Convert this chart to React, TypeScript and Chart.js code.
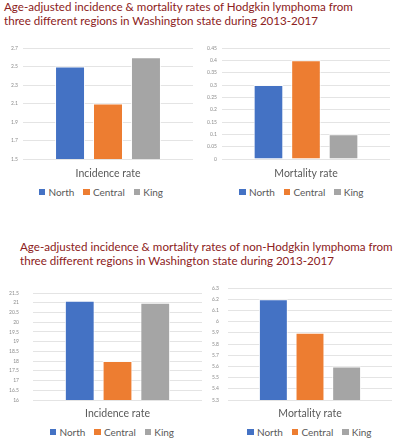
import React, { useEffect, useRef } from "react";
import { Chart, registerables } from "chart.js";
Chart.register(...registerables);

// ---- data ----
const regions = ["North", "Central", "King"];
const regionColors = ["#4472C4", "#ED7D31", "#A5A5A5"];

const incidenceCategory = ["Incidence rate"];
const mortalityCategory = ["Mortality rate"];

const hlTitle = [
  "Age-adjusted incidence & mortality rates of Hodgkin lymphoma from",
  "three different regions in Washington state during 2013-2017",
];
const nhlTitle = [
  "Age-adjusted incidence & mortality rates of non-Hodgkin lymphoma from",
  "three different regions in Washington state during 2013-2017",
];

const hlIncidence = [2.5, 2.1, 2.6];
const hlMortality = [0.3, 0.4, 0.1];
const nhlIncidence = [21.1, 18.0, 21.0];
const nhlMortality = [6.2, 5.9, 5.6];

const hlIncidenceTicks = [1.5, 1.7, 1.9, 2.1, 2.3, 2.5, 2.7];
const hlMortalityTicks = [0, 0.05, 0.1, 0.15, 0.2, 0.25, 0.3, 0.35, 0.4, 0.45];
const nhlIncidenceTicks = [16, 16.5, 17, 17.5, 18, 18.5, 19, 19.5, 20, 20.5, 21, 21.5];
const nhlMortalityTicks = [5.3, 5.4, 5.5, 5.6, 5.7, 5.8, 5.9, 6, 6.1, 6.2, 6.3];

type Geo = {
  left: number;
  top: number;
  width: number;
  areaLeft: number;
  areaRight: number;
  areaTop: number;
  areaBottom: number;
  tickPad: number;
  labelCenter: number;
  legendCenterX: number;
  legendCenterY: number;
};

const FONT = "Lato";
const X_AXIS_HEIGHT = 24;

function Legend(props: { cx: number; cy: number }) {
  return (
    <div
      style={{
        position: "absolute",
        left: props.cx - 100,
        top: props.cy - 7,
        width: 200,
        height: 14,
        display: "flex",
        justifyContent: "center",
        alignItems: "center",
        fontFamily: FONT,
        fontSize: 10,
        color: "#595959",
        whiteSpace: "nowrap",
      }}
    >
      {regions.map((r, i) => (
        <div key={r} style={{ display: "flex", alignItems: "center", marginLeft: i === 0 ? 0 : 9 }}>
          <span style={{ display: "inline-block", width: 6.5, height: 6.5, background: regionColors[i], marginRight: 3 }} />
          <span>{r}</span>
        </div>
      ))}
    </div>
  );
}

function BarPanel(props: { category: string[]; values: number[]; ticks: number[]; geo: Geo }) {
  const { category, values, ticks, geo } = props;
  const ref = useRef<HTMLCanvasElement>(null);
  const height = geo.areaBottom - geo.top + X_AXIS_HEIGHT;
  useEffect(() => {
    const yWidth = geo.areaLeft - geo.left;
    const padRight = geo.left + geo.width - geo.areaRight;
    const padTop = geo.areaTop - geo.top;
    const xPad = geo.labelCenter - geo.areaBottom - 6.3;
    const chart = new Chart(ref.current!, {
      type: "bar",
      data: {
        labels: category,
        datasets: regions.map((r, i) => ({
          label: r,
          data: [values[i]],
          backgroundColor: regionColors[i],
          borderColor: "rgba(255,255,255,0.85)",
          borderWidth: 1,
          categoryPercentage: 0.67,
          barPercentage: 0.79,
        })),
      },
      options: {
        animation: false,
        responsive: false,
        maintainAspectRatio: false,
        layout: { padding: { left: 0, right: padRight, top: padTop, bottom: 0 } },
        plugins: {
          legend: { display: false },
          tooltip: { enabled: false },
        },
        scales: {
          x: {
            grid: { display: false, drawTicks: false },
            border: { display: false },
            ticks: { color: "#595959", font: { family: FONT, size: 10.5 }, padding: xPad },
            afterFit: (s: any) => {
              s.height = X_AXIS_HEIGHT;
            },
          },
          y: {
            min: ticks[0],
            max: ticks[ticks.length - 1],
            grid: { color: "#E4E4E4", drawTicks: false },
            border: { display: false },
            ticks: {
              color: "#8C8C8C",
              font: { family: FONT, size: 5 },
              padding: geo.tickPad,
              callback: (v: any) => String(v),
            },
            afterBuildTicks: (s: any) => {
              s.ticks = ticks.map((v) => ({ value: v }));
            },
            afterFit: (s: any) => {
              s.width = yWidth;
            },
          },
        },
      },
    } as any);
    return () => chart.destroy();
  }, []);
  return (
    <>
      <canvas
        ref={ref}
        width={geo.width}
        height={height}
        style={{ position: "absolute", left: geo.left, top: geo.top, width: geo.width, height }}
      />
      <Legend cx={geo.legendCenterX} cy={geo.legendCenterY} />
    </>
  );
}

function Title(props: { lines: string[]; left: number; top: number }) {
  return (
    <div
      style={{
        position: "absolute",
        left: props.left,
        top: props.top,
        fontFamily: FONT,
        fontSize: 11.6,
        lineHeight: "14px",
        color: "#8C2121",
        whiteSpace: "nowrap",
      }}
    >
      {props.lines.map((l, i) => (
        <div key={i}>{l}</div>
      ))}
    </div>
  );
}

export default function App() {
  return (
    <div
      style={{
        position: "absolute",
        left: 0,
        top: 0,
        width: 400,
        height: 442,
        overflow: "hidden",
        background: "#ffffff",
      }}
    >
      <Title lines={hlTitle} left={4} top={0} />
      <BarPanel
        category={incidenceCategory}
        values={hlIncidence}
        ticks={hlIncidenceTicks}
        geo={{
          left: 0, top: 36, width: 200, areaLeft: 23, areaRight: 193, areaTop: 48, areaBottom: 159,
          tickPad: 5, labelCenter: 174, legendCenterX: 101, legendCenterY: 192,
        }}
      />
      <BarPanel
        category={mortalityCategory}
        values={hlMortality}
        ticks={hlMortalityTicks}
        geo={{
          left: 200, top: 36, width: 200, areaLeft: 222, areaRight: 390, areaTop: 48, areaBottom: 159,
          tickPad: 5, labelCenter: 174, legendCenterX: 301.5, legendCenterY: 192,
        }}
      />
      <Title lines={nhlTitle} left={20} top={240} />
      <BarPanel
        category={incidenceCategory}
        values={nhlIncidence}
        ticks={nhlIncidenceTicks}
        geo={{
          left: 0, top: 276, width: 210, areaLeft: 33, areaRight: 202, areaTop: 288, areaBottom: 400,
          tickPad: 14, labelCenter: 414, legendCenterX: 112, legendCenterY: 432,
        }}
      />
      <BarPanel
        category={mortalityCategory}
        values={nhlMortality}
        ticks={nhlMortalityTicks}
        geo={{
          left: 210, top: 276, width: 190, areaLeft: 228, areaRight: 392, areaTop: 288, areaBottom: 400,
          tickPad: 9, labelCenter: 414, legendCenterX: 309.5, legendCenterY: 432,
        }}
      />
    </div>
  );
}
